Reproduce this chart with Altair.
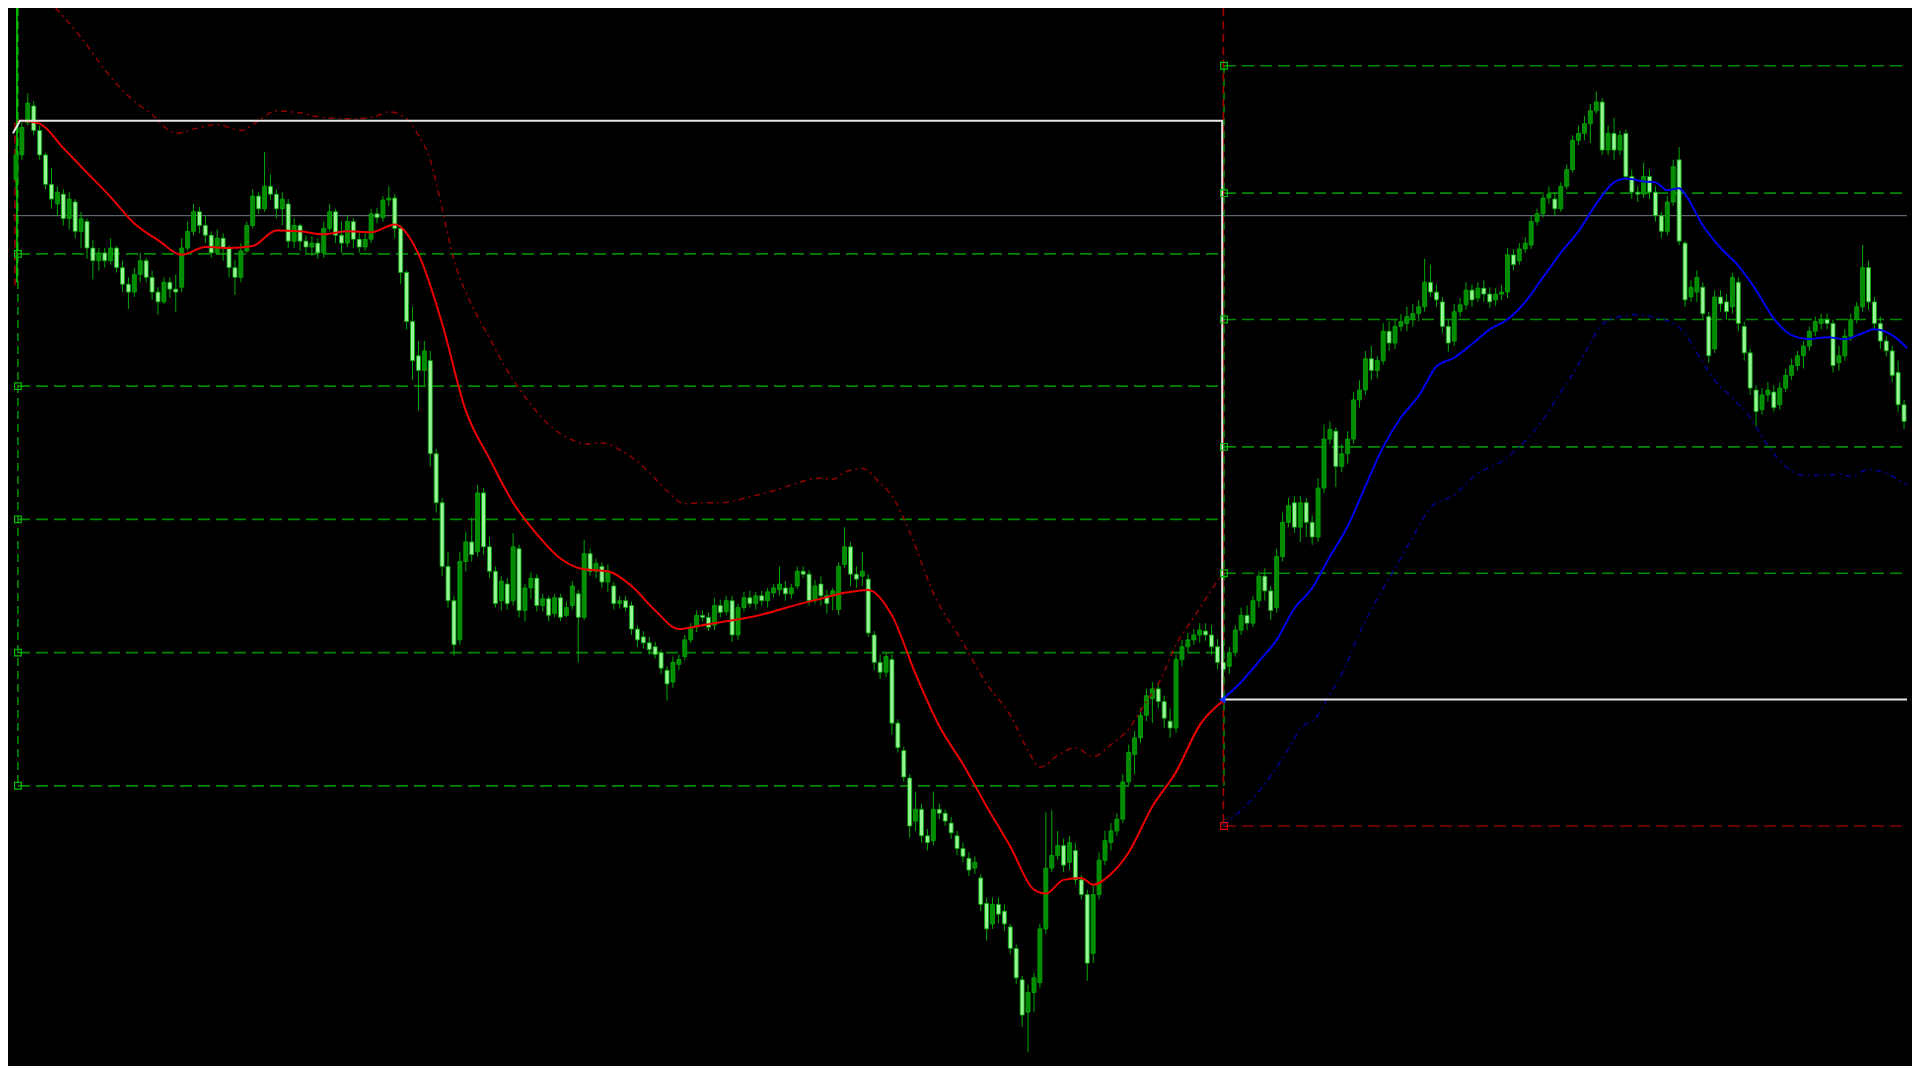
import altair as alt
import pandas as pd

# ---------------- candle data (price in points), one entry per bar ----------------
OPEN = [
    1905,1930,1963,1980,1955,1930,1900,1880,1890,1865,
    1882,1852,1862,1835,1822,1830,1822,1835,1815,1798,
    1790,1808,1822,1805,1790,1780,1800,1793,1795,1835,
    1852,1872,1858,1848,1830,1845,1835,1815,1805,1832,
    1858,1888,1875,1898,1890,1875,1880,1842,1858,1842,
    1836,1840,1830,1855,1872,1848,1840,1862,1844,1836,
    1844,1870,1866,1884,1886,1855,1810,1760,1725,1710,
    1720,1625,1575,1510,1475,1435,1515,1535,1525,1585,
    1530,1505,1475,1492,1475,1528,1465,1488,1498,1470,
    1477,1462,1478,1460,1470,1482,1458,1523,1505,1510,
    1494,1490,1472,1475,1470,1446,1438,1432,1428,1422,
    1404,1392,1410,1418,1435,1448,1460,1458,1450,1470,
    1464,1475,1440,1468,1478,1472,1480,1475,1483,1486,
    1488,1482,1490,1505,1502,1475,1492,1480,1480,1466,
    1512,1530,1502,1500,1497,1440,1412,1402,1415,1350,
    1322,1294,1250,1262,1235,1230,1262,1258,1248,1235,
    1222,1212,1202,1192,1166,1145,1165,1158,1142,1120,
    1088,1055,1075,1085,1140,1202,1215,1225,1208,1220,
    1190,1175,1115,1175,1210,1228,1240,1252,1290,1318,
    1335,1358,1375,1385,1372,1352,1345,1415,1428,1435,
    1440,1444,1440,1428,1412,1408,1422,1445,1460,1452,
    1475,1500,1485,1468,1520,1555,1575,1550,1575,1555,
    1540,1590,1640,1648,1612,1625,1640,1680,1690,1722,
    1710,1720,1750,1738,1755,1758,1762,1768,1775,1800,
    1790,1780,1755,1740,1770,1777,1792,1784,1794,1788,
    1782,1788,1790,1828,1822,1834,1838,1862,1870,1886,
    1885,1875,1898,1915,1945,1952,1962,1975,1984,1935,
    1952,1935,1952,1908,1892,1890,1908,1892,1868,1852,
    1882,1925,1840,1785,1790,1795,1765,1732,1785,1780,
    1775,1800,1755,1728,1690,1670,1685,1688,1675,1692,
    1705,1715,1725,1735,1750,1758,1762,1758,1718,1725,
    1745,1762,1775,1815,1780,1758,1740,1730,1708,1675,
]
HIGH = [
    1940,1965,1993,1985,1960,1932,1917,1898,1895,1892,
    1885,1872,1865,1843,1835,1835,1845,1837,1822,1805,
    1815,1830,1825,1812,1795,1805,1805,1808,1845,1862,
    1880,1877,1868,1852,1854,1850,1838,1823,1840,1862,
    1895,1892,1933,1910,1895,1892,1885,1865,1860,1848,
    1847,1845,1862,1880,1875,1862,1868,1866,1852,1850,
    1875,1876,1888,1898,1890,1858,1812,1775,1740,1740,
    1730,1630,1580,1525,1480,1525,1545,1560,1593,1590,
    1540,1510,1500,1498,1544,1532,1492,1504,1502,1482,
    1480,1482,1482,1474,1495,1486,1537,1528,1518,1514,
    1512,1494,1480,1480,1474,1450,1444,1438,1433,1425,
    1408,1418,1420,1440,1452,1465,1465,1463,1478,1476,
    1480,1480,1472,1484,1485,1484,1485,1488,1492,1510,
    1495,1492,1510,1510,1506,1496,1500,1486,1488,1514,
    1550,1535,1510,1525,1502,1444,1420,1422,1420,1354,
    1326,1298,1280,1268,1242,1280,1268,1262,1254,1240,
    1228,1218,1214,1196,1172,1172,1172,1165,1145,1124,
    1092,1083,1095,1145,1259,1261,1240,1232,1235,1228,
    1195,1180,1185,1218,1240,1248,1258,1298,1328,1342,
    1365,1385,1392,1392,1378,1365,1420,1435,1442,1446,
    1452,1452,1450,1436,1432,1428,1450,1468,1470,1480,
    1505,1508,1490,1528,1565,1580,1582,1582,1580,1562,
    1600,1655,1658,1652,1635,1648,1688,1700,1730,1735,
    1725,1758,1760,1762,1768,1775,1778,1782,1824,1818,
    1798,1785,1762,1778,1784,1800,1798,1800,1802,1795,
    1794,1797,1835,1834,1840,1846,1868,1875,1892,1898,
    1892,1902,1920,1950,1960,1970,1982,1995,1988,1960,
    1968,1955,1956,1915,1898,1922,1915,1898,1872,1888,
    1925,1938,1842,1802,1812,1800,1770,1792,1792,1788,
    1810,1805,1760,1732,1695,1692,1698,1695,1698,1712,
    1722,1730,1740,1755,1765,1768,1768,1762,1735,1752,
    1768,1780,1838,1822,1785,1765,1745,1735,1720,1680,
]
LOW = [
    1895,1925,1960,1950,1925,1895,1875,1868,1858,1854,
    1845,1835,1824,1803,1812,1815,1818,1810,1790,1773,
    1785,1800,1800,1782,1767,1778,1784,1770,1790,1832,
    1848,1850,1840,1825,1828,1822,1805,1787,1800,1830,
    1855,1870,1872,1884,1865,1858,1835,1835,1832,1828,
    1827,1824,1825,1852,1840,1830,1836,1835,1830,1832,
    1840,1860,1862,1878,1845,1798,1752,1700,1669,1695,
    1612,1565,1500,1468,1419,1430,1505,1515,1520,1522,
    1498,1468,1465,1466,1470,1458,1454,1477,1464,1464,
    1454,1458,1454,1458,1466,1412,1455,1500,1498,1488,
    1484,1466,1467,1464,1440,1428,1426,1420,1416,1400,
    1373,1386,1404,1414,1432,1443,1454,1444,1445,1458,
    1460,1433,1435,1464,1468,1466,1470,1468,1478,1480,
    1475,1477,1487,1498,1470,1472,1470,1462,1465,1460,
    1508,1490,1488,1490,1438,1404,1395,1397,1338,1320,
    1290,1233,1240,1228,1220,1225,1252,1245,1232,1215,
    1208,1194,1196,1158,1128,1140,1146,1138,1114,1084,
    1040,1014,1055,1080,1135,1198,1210,1198,1200,1185,
    1170,1087,1105,1170,1205,1220,1235,1248,1285,1298,
    1330,1352,1350,1365,1345,1335,1340,1408,1422,1430,
    1432,1434,1420,1405,1396,1400,1418,1440,1445,1448,
    1468,1475,1455,1463,1515,1550,1544,1535,1540,1532,
    1535,1585,1635,1591,1606,1615,1635,1672,1685,1700,
    1702,1716,1730,1732,1750,1750,1755,1760,1770,1785,
    1775,1748,1729,1735,1765,1772,1775,1780,1780,1774,
    1776,1782,1784,1812,1818,1830,1834,1858,1866,1880,
    1868,1872,1895,1912,1940,1945,1942,1972,1930,1930,
    1925,1930,1904,1885,1882,1886,1885,1862,1845,1848,
    1878,1838,1775,1780,1780,1762,1718,1728,1770,1762,
    1768,1750,1720,1685,1653,1665,1678,1668,1670,1688,
    1700,1710,1712,1730,1745,1752,1752,1708,1710,1720,
    1740,1758,1770,1772,1752,1732,1724,1698,1668,1650,
]
CLOSE = [
    1930,1958,1983,1955,1930,1900,1885,1892,1865,1885,
    1852,1865,1835,1822,1830,1822,1835,1815,1798,1790,
    1808,1822,1805,1790,1780,1800,1793,1790,1835,1852,
    1872,1858,1848,1830,1845,1835,1815,1805,1832,1858,
    1888,1875,1898,1890,1875,1885,1842,1858,1842,1836,
    1840,1830,1855,1872,1848,1840,1862,1844,1836,1844,
    1870,1866,1884,1886,1855,1810,1760,1720,1710,1730,
    1625,1575,1510,1475,1430,1515,1535,1522,1585,1530,
    1505,1472,1495,1472,1530,1465,1488,1498,1470,1477,
    1460,1478,1458,1468,1490,1458,1523,1505,1513,1494,
    1505,1472,1475,1468,1446,1435,1432,1425,1420,1406,
    1390,1412,1415,1435,1448,1460,1458,1448,1470,1463,
    1475,1440,1468,1478,1472,1480,1475,1484,1488,1492,
    1482,1488,1505,1502,1475,1490,1480,1472,1485,1510,
    1530,1502,1497,1505,1442,1412,1402,1418,1350,1325,
    1295,1245,1262,1235,1228,1262,1258,1250,1238,1222,
    1214,1200,1208,1165,1140,1165,1155,1145,1120,1090,
    1052,1075,1090,1140,1202,1215,1225,1205,1228,1190,
    1175,1105,1175,1210,1230,1240,1252,1290,1320,1335,
    1358,1378,1385,1372,1355,1345,1415,1428,1435,1440,
    1445,1440,1428,1412,1405,1422,1445,1460,1452,1475,
    1500,1485,1465,1520,1555,1572,1550,1575,1555,1540,
    1590,1640,1650,1612,1625,1640,1680,1690,1722,1710,
    1720,1750,1738,1755,1760,1765,1768,1775,1800,1790,
    1782,1755,1738,1770,1777,1792,1782,1794,1788,1780,
    1788,1790,1828,1818,1834,1840,1862,1870,1886,1890,
    1875,1898,1915,1945,1952,1962,1975,1984,1935,1952,
    1935,1950,1908,1892,1890,1908,1892,1868,1852,1882,
    1918,1842,1782,1795,1805,1768,1725,1785,1778,1770,
    1805,1758,1728,1692,1668,1685,1690,1672,1692,1705,
    1715,1725,1735,1750,1760,1762,1758,1715,1725,1745,
    1762,1775,1815,1780,1758,1740,1730,1705,1675,1658,
]

# ---------------- indicator lines (bar index, value) ----------------
RED_MA_BAR = [0.3, 1, 4, 8, 12, 16, 20, 24, 28, 32, 36, 40, 44, 48, 52, 56, 60, 64, 68, 72,
              76, 80, 84, 88, 92, 96, 100, 104, 108, 112, 116, 120, 124, 128, 132, 136, 140,
              144, 148, 152, 156, 160, 164, 168, 172, 174, 177, 180, 182, 185, 188, 192, 196,
              200, 203.8]
RED_MA = [1965, 1965, 1962, 1937, 1912, 1887, 1860, 1843, 1828, 1836, 1835, 1837, 1853, 1852,
          1849, 1852, 1851, 1859, 1829, 1758, 1669, 1620, 1575, 1543, 1518, 1507, 1505, 1490,
          1465, 1446, 1450, 1454, 1458, 1464, 1471, 1477, 1483, 1486, 1460, 1400, 1347, 1308,
          1265, 1224, 1180, 1176, 1190, 1192, 1185, 1196, 1218, 1265, 1300, 1348, 1372]

RED_ENV_BAR = [6.7, 11, 15, 19, 23, 27, 31, 34, 38, 41, 44, 48, 52, 58, 61, 63, 66, 68, 70, 72,
               74, 77, 80, 83, 86, 90, 94, 96, 99, 102, 105, 107, 110, 113, 116, 119, 124, 129,
               133, 136, 138, 140, 143, 146, 148, 151, 155, 160, 164, 168, 171, 173, 176, 179,
               182, 185, 188, 191, 193, 196, 199, 203.5]
RED_ENV = [2080, 2050, 2017, 1990, 1971, 1952, 1958, 1961, 1955, 1965, 1975, 1973, 1968, 1967,
           1970, 1974, 1967, 1950, 1925, 1875, 1823, 1777, 1743, 1710, 1683, 1655, 1639, 1635,
           1636, 1629, 1617, 1606, 1587, 1574, 1575, 1575, 1581, 1589, 1597, 1600, 1599, 1606,
           1610, 1595, 1582, 1545, 1483, 1432, 1390, 1358, 1322, 1305, 1317, 1325, 1316, 1328,
           1344, 1372, 1390, 1430, 1458, 1500]

BLUE_MA_BAR = [203.8, 207, 210, 213, 216, 219, 222, 225, 228, 231, 234, 237, 240, 243, 246, 249,
               252, 255, 258, 261, 264, 267, 270, 272, 275, 277, 279, 281, 282, 285, 288, 291,
               294, 297, 300, 303, 306, 309, 312, 314, 317, 319.5]
BLUE_MA = [1374, 1392, 1413, 1435, 1467, 1488, 1520, 1551, 1592, 1632, 1662, 1684, 1714, 1723,
           1737, 1752, 1762, 1780, 1805, 1830, 1852, 1880, 1902, 1906, 1903, 1902, 1894, 1896,
           1890, 1858, 1835, 1817, 1792, 1763, 1746, 1742, 1744, 1742, 1748, 1752, 1746, 1733]

BLUE_ENV_BAR = [204, 208, 212, 215, 217, 220, 222, 224, 227, 230, 233, 236, 239, 243, 247, 251,
                255, 258, 261, 264, 266, 268, 271, 274, 277, 280, 282, 284, 287, 290, 293, 296,
                299, 302, 305, 308, 310, 313, 316, 319.5]
BLUE_ENV = [1246, 1267, 1296, 1324, 1344, 1358, 1380, 1400, 1442, 1477, 1508, 1540, 1570, 1583,
            1605, 1617, 1638, 1660, 1688, 1716, 1738, 1757, 1765, 1767, 1764, 1758, 1748, 1728,
            1700, 1682, 1662, 1633, 1612, 1603, 1603, 1604, 1602, 1609, 1605, 1593]

# ---------------- levels ----------------
LEFT_LEVELS = [1829, 1694, 1558, 1422, 1286]
RIGHT_LEVELS = [2021, 1891, 1762, 1632, 1503]
RED_LEVEL = 1245
GREY_LEVEL = 1868
WHITE_TOP = 1965
WHITE_BOTTOM = 1374
WHITE_START = 1952
SPLIT_BAR = 203.8
FIRST_BAR, LAST_BAR = -0.5, 319.5
LEFT_START = 0.33
RIGHT_START = 204.1
TOP, BOTTOM = 2080, 1000

W, H = 1904, 1058
xs = alt.Scale(domain=[FIRST_BAR, LAST_BAR], nice=False, zero=False)
ys = alt.Scale(domain=[BOTTOM, TOP], nice=False, zero=False)
X = lambda f: alt.X(f, type="quantitative", scale=xs, axis=None)
Y = lambda f: alt.Y(f, type="quantitative", scale=ys, axis=None)

n = len(OPEN)
candles = pd.DataFrame({
    "bar": list(range(n)), "o": OPEN, "h": HIGH, "l": LOW, "c": CLOSE,
})
candles["dir"] = ["bull" if c >= o else "bear" for o, c in zip(OPEN, CLOSE)]

lvl_left = pd.DataFrame({"x": LEFT_START, "x2": SPLIT_BAR - 0.3, "y": LEFT_LEVELS})
lvl_right = pd.DataFrame({"x": RIGHT_START, "x2": LAST_BAR, "y": RIGHT_LEVELS})

dash_green = [12, 6]
g_levels = alt.layer(
    alt.Chart(lvl_left).mark_rule(color="#008a00", strokeWidth=1.6, strokeDash=dash_green)
    .encode(x=X("x"), x2="x2", y=Y("y")),
    alt.Chart(lvl_right).mark_rule(color="#008a00", strokeWidth=1.6, strokeDash=dash_green)
    .encode(x=X("x"), x2="x2", y=Y("y")),
)
grey = alt.Chart(pd.DataFrame({"x": [FIRST_BAR], "x2": [LAST_BAR], "y": [GREY_LEVEL]})).mark_rule(
    color="#6f7c88", strokeWidth=1).encode(x=X("x"), x2="x2", y=Y("y"))
red_lvl = alt.Chart(pd.DataFrame({"x": [RIGHT_START], "x2": [LAST_BAR], "y": [RED_LEVEL]})).mark_rule(
    color="#8b0000", strokeWidth=1.6, strokeDash=dash_green).encode(x=X("x"), x2="x2", y=Y("y"))

vlines_df = pd.DataFrame({
    "x": [LEFT_START, RIGHT_START],
    "y": [TOP, RIGHT_LEVELS[0]],
    "y2": [LEFT_LEVELS[-1], LEFT_LEVELS[-1]],
})
g_vert = alt.Chart(vlines_df).mark_rule(color="#008a00", strokeWidth=1.6, strokeDash=[8, 5]).encode(
    x=X("x"), y=Y("y"), y2="y2")
lime_vert = alt.Chart(pd.DataFrame({"x": [0.17], "y": [TOP], "y2": [1800]})).mark_rule(
    color="#00e000", strokeWidth=1.5).encode(x=X("x"), y=Y("y"), y2="y2")
red_vert = alt.Chart(pd.DataFrame({"x": [204.0, -0.17], "y": [TOP, 1963], "y2": [RED_LEVEL, 1797]})).mark_rule(
    color="#a00000", strokeWidth=1.6, strokeDash=[8, 5]).encode(x=X("x"), y=Y("y"), y2="y2")

wick = alt.Chart(candles).mark_rule(color="#00a800", strokeWidth=1).encode(
    x=X("bar"), y=Y("l"), y2="h")
body = alt.Chart(candles).mark_bar(size=4, stroke="#00a800", strokeWidth=0.8).encode(
    x=X("bar"), y=Y("o"), y2="c",
    color=alt.Color("dir:N", scale=alt.Scale(domain=["bull", "bear"], range=["#008c00", "#98f598"]),
                    legend=None),
)

def line_df(bars, vals):
    return pd.DataFrame({"bar": bars, "v": vals, "k": list(range(len(bars)))})

red_ma = alt.Chart(line_df(RED_MA_BAR, RED_MA)).mark_line(color="#ee0000", strokeWidth=2, interpolate="monotone").encode(
    x=X("bar"), y=Y("v"), order="k:Q")
red_env = alt.Chart(line_df(RED_ENV_BAR, RED_ENV)).mark_line(color="#900000", strokeWidth=1.5,
                                                               strokeDash=[6, 4, 2, 4], interpolate="monotone").encode(
    x=X("bar"), y=Y("v"), order="k:Q")
blue_ma = alt.Chart(line_df(BLUE_MA_BAR, BLUE_MA)).mark_line(color="#0000f0", strokeWidth=2, interpolate="monotone").encode(
    x=X("bar"), y=Y("v"), order="k:Q")
blue_env = alt.Chart(line_df(BLUE_ENV_BAR, BLUE_ENV)).mark_line(color="#000090", strokeWidth=1.5,
                                                                  strokeDash=[6, 4, 2, 4], interpolate="monotone").encode(
    x=X("bar"), y=Y("v"), order="k:Q")

white_df = pd.DataFrame({
    "bar": [FIRST_BAR, 0.67, SPLIT_BAR, SPLIT_BAR, LAST_BAR],
    "v": [WHITE_START, WHITE_TOP, WHITE_TOP, WHITE_BOTTOM, WHITE_BOTTOM],
    "k": [0, 1, 2, 3, 4],
})
white = alt.Chart(white_df).mark_line(color="#e8e8e8", strokeWidth=2).encode(
    x=X("bar"), y=Y("v"), order="k:Q")

sq_df = pd.DataFrame({
    "x": [LEFT_START] * len(LEFT_LEVELS) + [RIGHT_START] * len(RIGHT_LEVELS),
    "y": LEFT_LEVELS + RIGHT_LEVELS,
})
squares = alt.Chart(sq_df).mark_point(shape="square", filled=False, color="#00c000", size=45,
                                      strokeWidth=1.2, opacity=1).encode(x=X("x"), y=Y("y"))
red_sq = alt.Chart(pd.DataFrame({"x": [RIGHT_START], "y": [RED_LEVEL]})).mark_point(
    shape="square", filled=False, color="#e00000", size=45, strokeWidth=1.2, opacity=1).encode(x=X("x"), y=Y("y"))
blue_pt = alt.Chart(pd.DataFrame({"x": [SPLIT_BAR], "y": [WHITE_BOTTOM]})).mark_point(
    shape="triangle-left", filled=True, color="#1030ff", size=60, opacity=1).encode(x=X("x"), y=Y("y"))

chart = alt.layer(
    g_levels, grey, red_lvl, g_vert, red_vert, lime_vert,
    wick, body,
    red_env, blue_env, red_ma, blue_ma,
    white, squares, red_sq, blue_pt,
).properties(width=W, height=H, padding=0, background="#000000", autosize="none").configure_view(
    strokeWidth=0, fill="#000000")

chart.save("out.html", embed_options={"renderer": "svg", "actions": False})
